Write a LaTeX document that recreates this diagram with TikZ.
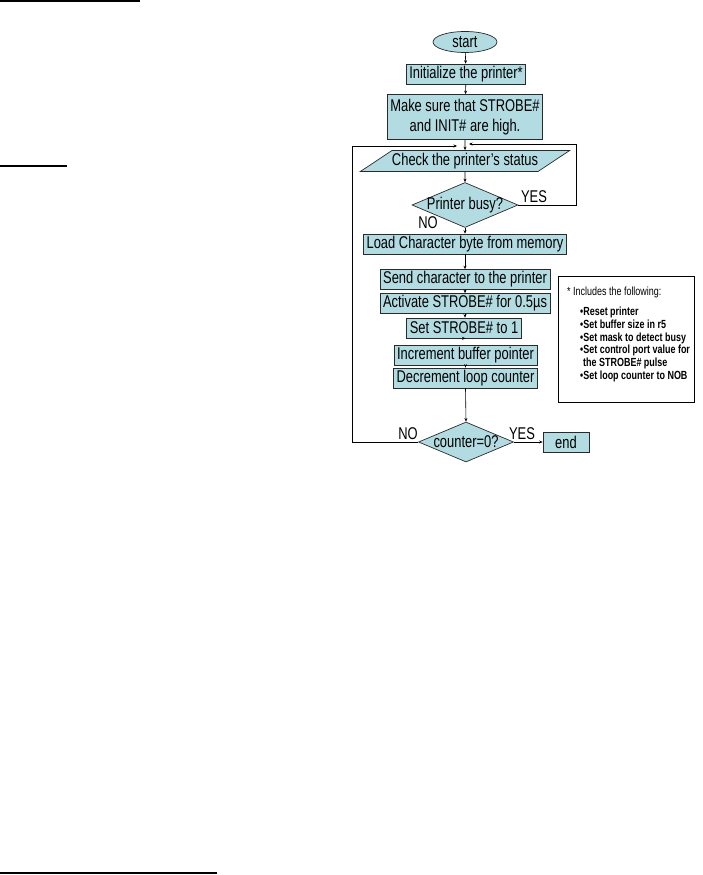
\documentclass[tikz,border=0pt]{standalone}
\usepackage{fontspec}
\setmainfont{Liberation Sans}[FakeStretch=0.76]
\usepackage{xcolor}
\usepackage{tikz}
\usetikzlibrary{shapes.geometric,arrows.meta,calc}
\definecolor{boxfill}{HTML}{B2DCE2}
\definecolor{edge}{HTML}{2A2A2A}
\tikzset{
  box/.style={draw=edge, fill=boxfill, line width=0.7pt, inner xsep=3pt, inner ysep=0pt, minimum height=20pt, font=\fontsize{17}{20}\selectfont},
  term/.style={ellipse, draw=edge, fill=boxfill, line width=0.7pt, inner sep=0pt, minimum width=64pt, minimum height=21pt, font=\fontsize{17}{20}\selectfont},
  dec/.style={diamond, draw=edge, fill=boxfill, line width=0.7pt, inner sep=0pt},
  io/.style={trapezium, trapezium left angle=26.6, trapezium right angle=153.4, trapezium stretches=true, draw=edge, fill=boxfill, line width=0.7pt, inner sep=0pt, minimum width=205pt, minimum height=21pt, font=\fontsize{17}{20}\selectfont},
  lbl/.style={inner sep=0pt, font=\fontsize{17}{20}\selectfont},
  arr/.style={-{Stealth[length=3.5pt,width=3pt]}, line width=0.6pt},
  rule/.style={line width=2pt},
  note/.style={draw, line width=0.6pt, fill=white},
  notetxt/.style={inner sep=0pt, align=left, font=\fontsize{11.8}{12.8}\selectfont}
}

\begin{document}
\begin{tikzpicture}[x=1pt,y=-1pt]
\useasboundingbox (0,0) rectangle (703,875);

\draw[rule] (0,1) -- (140,1);
\draw[rule] (0,165.5) -- (67,165.5);
\draw[rule] (0,872.5) -- (217,872.5);

\node[term] (start) at (465,42) {start};
\node[box] (init) at (466,74) {Initialize the printer*};
\node[box, align=center, minimum height=45pt] (make) at (465,117) {Make sure that STROBE\#\\and INIT\# are high.};
\node[io] (chk) at (465,161) {Check the printer's status};
\node[dec, minimum width=106pt, minimum height=45pt, label={[lbl]center:Printer busy?}] (busy) at (465,205) {};
\node[box] (load) at (465,244) {Load Character byte from memory};
\node[box] (send) at (465,279.5) {Send character to the printer};
\node[box] (act) at (465,303.5) {Activate STROBE\# for 0.5µs};
\node[box] (set) at (464,328) {Set STROBE\# to 1};
\node[box] (inc) at (465.5,355) {Increment buffer pointer};
\node[box] (dcr) at (465.5,378) {Decrement loop counter};
\node[dec, minimum width=95pt, minimum height=40pt, label={[lbl]center:counter=0?}] (cnt) at (466,442) {};
\node[box, minimum width=46pt] (end) at (566,442) {end};

\node[lbl] (yes1) at (534,197) {YES};
\node[lbl] (no1) at (428,223) {NO};
\node[lbl] (no2) at (408,434) {NO};
\node[lbl] (yes2) at (522,434) {YES};

\coordinate (lside) at (352,146);
\coordinate (lin) at (457,146);
\coordinate (rside) at (576,144);
\coordinate (rin) at (469,144);

\draw[arr] (start) -- (init);
\draw[arr] (init) -- (make);
\draw[arr] (make.south) -- (chk.north);
\draw[arr] (chk.south) -- (busy.north);
\draw[arr] (busy.south) -- (load.north);
\draw[arr] (load) -- (send);
\draw[arr] (send) -- (act);
\draw[arr] (act.south) -- (act.south |- set.north);
\draw[arr] (set.south) -- (set.south -| inc.north);
\draw[arr] (inc) -- (dcr);
\draw[arr] (dcr.south) -- (cnt.north);
\draw[arr] (cnt.east) -- (end.west);
\draw[arr] (busy.east) -| (rside) -- (rin);
\draw[arr] (cnt.west) -| (lside) -- (lin);

\node[note, minimum width=136pt, minimum height=126pt] (notebox) at (626,339) {};
\node[notetxt, anchor=north west] (notetx) at (567,287) {* Includes the following:\\[7pt]
\hspace{13pt}\textbf{•Reset printer}\\
\hspace{13pt}\textbf{•Set buffer size in r5}\\
\hspace{13pt}\textbf{•Set mask to detect busy}\\
\hspace{13pt}\textbf{•Set control port value for}\\
\hspace{16pt}\textbf{the STROBE\# pulse}\\
\hspace{13pt}\textbf{•Set loop counter to NOB}};
\end{tikzpicture}
\end{document}
